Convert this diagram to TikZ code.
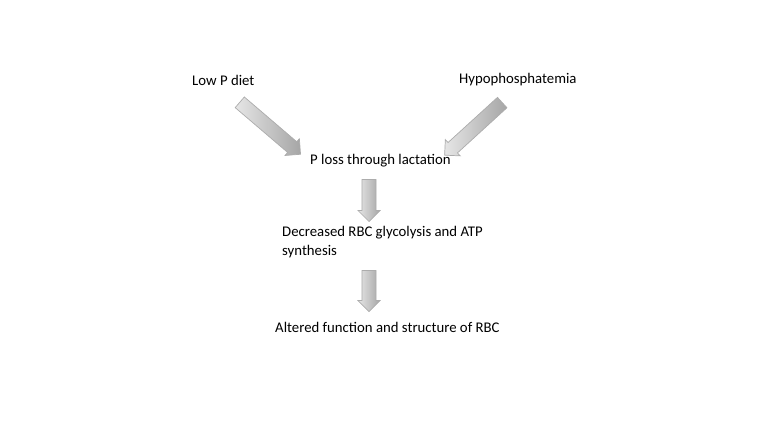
\documentclass[tikz,border=0pt]{standalone}
\usepackage{fontspec}
\setmainfont{Carlito}
\usetikzlibrary{shapes.arrows}
\begin{document}
\begin{tikzpicture}[x=0.03cm,y=-0.03cm,
  lbl/.style={font=\fontsize{12.6}{16}\selectfont, anchor=west, inner sep=0},
  barrow/.style={single arrow, draw=gray!65, line width=0.6pt, left color=gray!20, right color=gray!70,
    minimum width=0.66cm, single arrow head extend=0.12cm, single arrow head indent=0pt, single arrow tip angle=90,
    inner xsep=0pt, inner ysep=0.2cm}]
\useasboundingbox (0,0) rectangle (768,432);
\node[lbl] (a) at (192,80) {Low P diet};
\node[lbl] (b) at (459,80) {Hypophosphatemia};
\node[lbl] (c) at (310,161) {P loss through lactation};
\node[lbl, align=left] (d) at (282,242) {Decreased RBC glycolysis and ATP\\synthesis};
\node[lbl] (e) at (275,327) {Altered function and structure of RBC};
\node[barrow, minimum height=2.4cm, rotate=-40.5] (ar1) at (267.5,126) {};
\node[barrow, minimum height=2.34cm, rotate=-137.6] (ar2) at (476,126.5) {};
\node[barrow, minimum height=1.26cm, rotate=-90] (ar3) at (369,197) {};
\node[barrow, minimum height=1.23cm, rotate=-90] (ar4) at (369,287.5) {};
\end{tikzpicture}
\end{document}
